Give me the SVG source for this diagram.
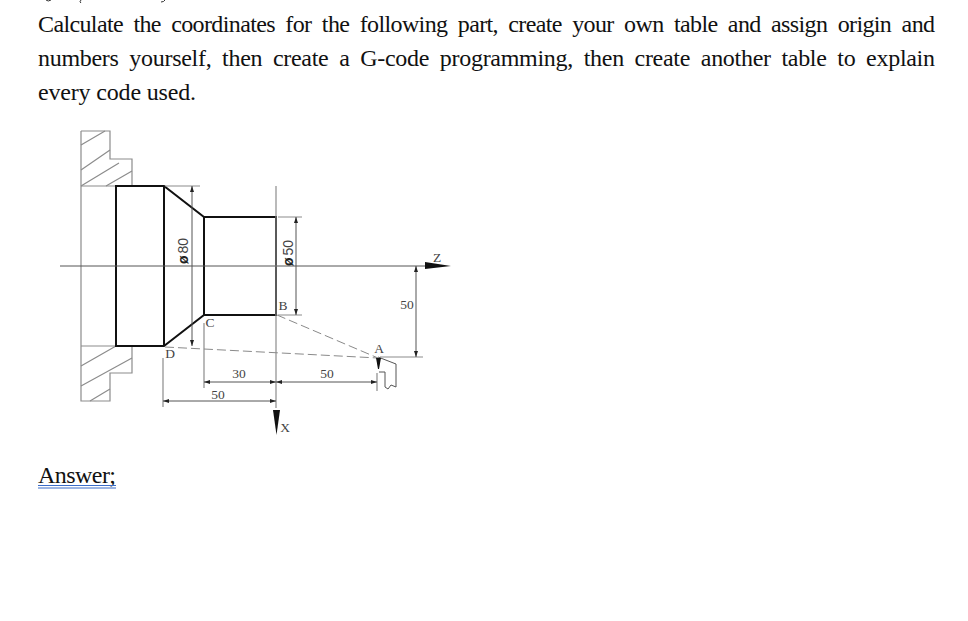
<svg xmlns="http://www.w3.org/2000/svg" width="968" height="621" viewBox="0 0 968 621">
<style>
.t{font-family:"Liberation Serif",serif;font-size:24px;fill:#111}
.l{font-family:"Liberation Serif",serif;font-size:13.500px;fill:#444;text-anchor:middle}
.d{font-family:"Liberation Sans",sans-serif;font-size:14px;fill:#444}
.o{font-weight:700;fill:#222}
.g{fill:none;stroke:#8c8c8c;stroke-width:1.2}
.n{fill:none;stroke:#555;stroke-width:1}
.k{fill:none;stroke:#111;stroke-width:2}
.h{fill:none;stroke:#8a8a8a;stroke-width:1;stroke-dasharray:9 4}
</style>
<defs>
<marker id="a" markerWidth="6" markerHeight="5" refX="6" refY="2.500" orient="auto-start-reverse" markerUnits="userSpaceOnUse"><path d="M0 0.500L6 2.500L0 4.500Z" fill="#222"/></marker>
</defs>
<rect width="968" height="621" fill="#fff"/>
<path d="M46 0Q48 2 51 0M81 0Q79 2 81 3M161 2Q164 2 165 0" fill="none" stroke="#333" stroke-width="1"/>
<g id="question">
<text class="t" x="38" y="32" textLength="897" style="word-spacing:5px">Calculate the coordinates for the following part, create your own table and assign origin and</text>
<text class="t" x="38" y="66" textLength="897" style="word-spacing:5px">numbers yourself, then create a G-code programming, then create another table to explain</text>
<text class="t" x="38" y="100" textLength="158">every code used.</text>
</g>
<g id="chuck">
<path class="g" d="M81 131H110V159H132V186H81M81 131V401H110V373H132V346H81"/>
<path class="g" d="M81 145L105 131M81 170L110 150M81 186L119 163M106 186L132 171M81 366L116 346M81 386L132 358M90 401L110 389"/>
</g>
<g id="part">
<path class="k" d="M116 186H164L204 217H276V315H204L164 346H116ZM164 186V346M204 217V315"/>
</g>
<g id="connectors">
<path class="n" d="M60 266H426"/>
<path fill="#111" d="M425 262L451 266L425 269Z"/>
<path class="g" d="M276 186V408"/>
<path fill="#111" d="M273 410H280L276.500 435Z"/>
<path class="g" d="M165 186H200M278 217H302M278 315H302M204 323V388M163 358V407M380 357H423M377 373V391"/>
<path class="n" marker-start="url(#a)" marker-end="url(#a)" d="M192 186V346"/>
<path class="n" marker-start="url(#a)" marker-end="url(#a)" d="M296 217V315"/>
<path class="n" marker-start="url(#a)" marker-end="url(#a)" d="M416 266V357"/>
<path class="n" marker-start="url(#a)" marker-end="url(#a)" d="M204 382H276"/>
<path class="n" marker-start="url(#a)" marker-end="url(#a)" d="M163 401H276"/>
<path class="n" marker-start="url(#a)" marker-end="url(#a)" d="M276 382H377"/>
<path class="h" d="M165 347L378 358M277 315L378 358"/>
</g>
<g id="tool">
<path class="n" d="M378 357L396 364V387L391 385L388 389L385 387V372H379"/>
<path fill="#111" d="M376 358H381L379 369H378Z"/>
</g>
<g id="labels">
<text class="d" transform="translate(188,264) rotate(-90)"><tspan class="o">ø</tspan><tspan dx="2">80</tspan></text>
<text class="d" transform="translate(293,266) rotate(-90)"><tspan class="o">ø</tspan><tspan dx="2">50</tspan></text>
<text class="l" x="283" y="310">B</text>
<text class="l" x="210" y="327">C</text>
<text class="l" x="170" y="358">D</text>
<text class="l" x="379" y="353">A</text>
<text class="l" x="437" y="262">Z</text>
<text class="l" x="285" y="432">X</text>
<text class="l" x="239" y="378">30</text>
<text class="l" x="218" y="399">50</text>
<text class="l" x="327" y="378">50</text>
<text class="l" x="407" y="309">50</text>
</g>
<g id="answer">
<text class="t" x="38" y="483" textLength="78">Answer;</text>
<path d="M38 485.500H116M38 488H116" stroke="#3a6cc8" stroke-width="1" fill="none"/>
</g>
</svg>
